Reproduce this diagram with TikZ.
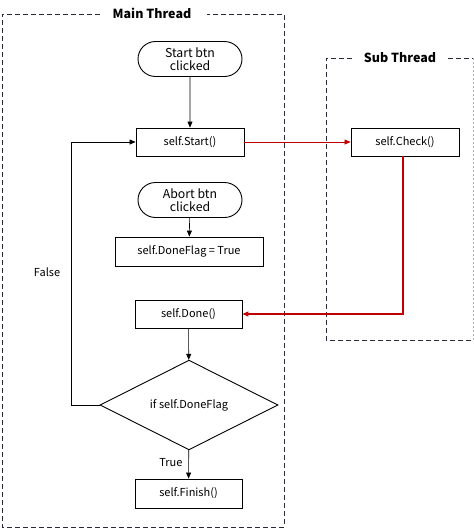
\documentclass[tikz,border=0pt]{standalone}
\usepackage{fontspec}
\setmainfont{Noto Sans CJK KR}
\usetikzlibrary{shapes.misc,shapes.geometric,arrows.meta}
\definecolor{dred}{RGB}{192,0,0}
\definecolor{frame}{RGB}{40,40,55}
\definecolor{edgegray}{RGB}{175,175,175}
\begin{document}
\begin{tikzpicture}[x=1pt,y=-1pt,
  font=\fontsize{11}{13}\selectfont,
  box/.style={draw, line width=0.9pt, minimum width=108pt, minimum height=28pt, inner sep=0pt},
  term/.style={draw, line width=0.9pt, rounded rectangle, minimum width=104pt, minimum height=35pt, inner sep=0pt, align=center, font=\fontsize{12.3}{13.5}\selectfont},
  decision/.style={draw, line width=0.9pt, diamond, minimum width=178pt, minimum height=52pt, inner sep=0pt},
  arr/.style={line width=0.6pt, -{Triangle[length=6pt,width=5pt]}},
  redarr/.style={dred, -{Triangle[length=6pt,width=5pt]}},
  framebox/.style={frame, line width=0.8pt, dash pattern=on 5pt off 3pt},
  title/.style={font=\fontsize{12.5}{14}\selectfont\bfseries, inner sep=0pt}
]
\useasboundingbox (0,0) rectangle (474,528);

% Main thread frame
\node[title] (mtitle) at (152,13) {Main Thread};
\coordinate (m1) at (100,14);
\coordinate (m2) at (207,14);
\draw[framebox] (m1) -- (2,14) -- (2,527) -- (284,527) -- (284,14) -- (m2);
% Sub thread frame
\node[title] (stitle) at (400,58) {Sub Thread};
\coordinate (s1) at (352,58);
\coordinate (s2) at (448,58);
\draw[framebox] (s1) -- (326,58) -- (326,340) -- (473,340);
\draw[framebox] (s2) -- (473,58);
\draw[edgegray, line width=0.8pt, dash pattern=on 2pt off 2pt] (473,58) -- (473,340);

% Nodes
\node[term] (start) at (190,59) {Start btn\\clicked};
\node[box] (st) at (190,142) {self.Start()};
\node[box] (chk) at (405,142) {self.Check()};
\node[term] (abort) at (190,200) {Abort btn\\clicked};
\node[box, minimum width=148pt, minimum height=29pt] (flag) at (189,251.5) {self.DoneFlag = True};
\node[box, minimum width=107pt] (done) at (188.5,314) {self.Done()};
\node[decision] (dec) at (189,405) {if self.DoneFlag};
\node[box, minimum width=107pt, minimum height=29pt] (fin) at (188.5,493.5) {self.Finish()};
\node (false) at (47,272) {False};

% Connectors
\draw[arr] (start) -- (st);
\draw[arr] (abort) -- (flag);
\draw[arr] (done) -- (dec);
\draw[arr] (dec) -- node[left, inner sep=6pt, pos=0.45] (truelbl) {True} (fin);
\coordinate (loop) at (71,405);
\draw[arr] (dec.west) -- (loop) |- (st.west);
\draw[redarr, line width=0.6pt] (st.east) -- (chk.west);
\draw[redarr, line width=1.2pt] (chk.south -| 403,0) |- (done.east);
\end{tikzpicture}
\end{document}
